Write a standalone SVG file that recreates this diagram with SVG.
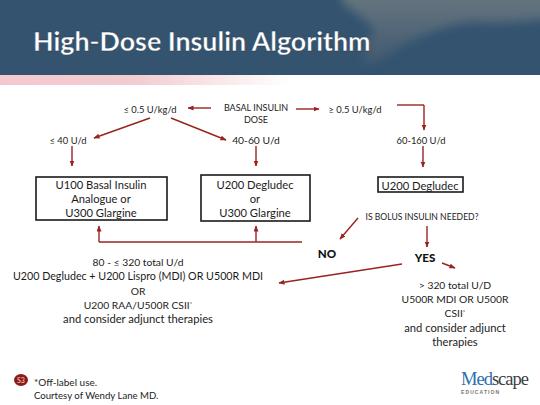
<svg xmlns="http://www.w3.org/2000/svg" width="540" height="405" viewBox="0 0 540 405">
<style>
text{font-family:Lato,"Liberation Sans",sans-serif;fill:#1c1c1c;text-anchor:middle}
.s{font-size:9px}.q{font-size:8.6px}.d{font-size:9.4px}.m{font-size:10.3px}.w{font-size:11.2px}.l{font-size:11.2px}.b{font-size:11.6px;font-weight:900;fill:#111}
.box{fill:#fff;stroke:#1a1a1a;stroke-width:1.6}
.c{fill:none;stroke:#982420;stroke-width:1.4;marker-end:url(#a)}
.n{fill:none;stroke:#982420;stroke-width:1.4}
.f{font-size:10px;text-anchor:start}
</style>
<defs>
<marker id="a" markerUnits="userSpaceOnUse" markerWidth="7" markerHeight="6" refX="5.5" refY="2.5" orient="auto"><path d="M0 0L6 2.5L0 5z" fill="#982420"/></marker>
<linearGradient id="p" x1="0" x2="1" y1="0" y2="0"><stop offset="0" stop-color="#f3c9cf"/><stop offset=".25" stop-color="#f2ccd0"/><stop offset=".54" stop-color="#fff"/></linearGradient>
<linearGradient id="cl" x1="0" x2="0" y1="0" y2="1"><stop offset="0" stop-color="#6c7a80"/><stop offset="1" stop-color="#3f5870"/></linearGradient>
<filter id="bl"><feGaussianBlur stdDeviation="5"/></filter>
<clipPath id="bc"><rect width="540" height="75"/></clipPath>
</defs>
<rect width="540" height="405" fill="#fff"/>
<g id="banner">
<rect width="540" height="75" fill="#33536f"/>
<g clip-path="url(#bc)"><path d="M335 -15H560V18Q500 25 470 22Q430 28 395 50Q375 66 365 66Q360 50 375 30Q360 15 345 5z" fill="url(#cl)" filter="url(#bl)"/></g>
<rect y="75" width="540" height="10" fill="url(#p)"/>
<text x="33" y="51" style="font-size:26.8px;font-weight:700;fill:#fff;text-anchor:start;stroke:#1f3347;stroke-width:.3px">High-Dose Insulin Algorithm</text>
</g>
<g id="connectors">
<path class="c" d="M211 108H188"/>
<path class="c" d="M296 109H319"/>
<path class="n" d="M397 105H424"/><path class="c" d="M424 105V130"/>
<path class="c" d="M150 118L94 138"/>
<path class="c" d="M171 118L226 140"/>
<path class="c" d="M72 146V166"/>
<path class="c" d="M256 146V166"/>
<path class="c" d="M423 146V167"/>
<path class="n" d="M302 242H99"/><path class="c" d="M99 242V226"/><path class="c" d="M256 242V226"/>
<path class="c" d="M358 218L340 239"/>
<path class="c" d="M427 226V247"/>
<path class="c" d="M402 264L279 283"/>
<path class="c" d="M442 263L455 268"/>
</g>
<g id="basal-dose"><text class="s" x="256" y="111">BASAL INSULIN</text><text class="s" x="256" y="123">DOSE</text></g>
<g id="low-dose"><text class="d" x="150" y="113">≤ 0.5 U/kg/d</text></g>
<g id="high-dose"><text class="d" x="355" y="113">≥ 0.5 U/kg/d</text></g>
<g id="d40"><text class="d" x="68" y="144">≤ 40 U/d</text></g>
<g id="d40-60"><text class="m" x="256" y="144">40-60 U/d</text></g>
<g id="d60-160"><text class="d" x="421" y="144">60-160 U/d</text></g>
<g id="box-u100"><rect class="box" x="36" y="177" width="131" height="43"/><text class="l" x="101" y="189">U100 Basal  Insulin</text><text class="l" x="101" y="203">Analogue or</text><text class="l" x="101" y="217">U300 Glargine</text></g>
<g id="box-u200"><rect class="box" x="201" y="175" width="109" height="46"/><text class="l" x="255" y="189">U200 Degludec</text><text class="l" x="255" y="203">or</text><text class="l" x="255" y="217">U300 Glargine</text></g>
<g id="box-deg"><rect class="box" x="378" y="177" width="85" height="15"/><text class="l" x="420" y="190">U200 Degludec</text></g>
<g id="bolus"><text class="q" x="422" y="220">IS BOLUS INSULIN NEEDED?</text></g>
<g id="no"><text class="b" x="327" y="258">NO</text></g>
<g id="yes"><text class="b" x="425" y="262">YES</text></g>
<g id="left-result"><text x="138" y="266" font-size="10.3">80 - ≤ 320 total U/d</text><text x="138" y="280" font-size="10.7">U200 Degludec + U200 Lispro (MDI) OR U500R MDI</text><text class="m" x="138" y="295">OR</text><text class="m" x="138" y="309">U200 RAA/U500R CSII<tspan dy="-3" font-size="6">*</tspan></text><text class="w" x="138" y="323">and consider adjunct therapies</text></g>
<g id="right-result"><text class="m" x="455" y="289">&gt; 320 total U/D</text><text class="m" x="455" y="303">U500R MDI OR U500R</text><text class="m" x="455" y="317">CSII<tspan dy="-3" font-size="6">*</tspan></text><text class="w" x="455" y="332">and consider adjunct</text><text class="w" x="455" y="346">therapies</text></g>
<g id="footer">
<ellipse cx="21" cy="380" rx="7" ry="6" fill="#8f1a14"/><text x="21" y="383" style="font-size:7px;fill:#f3d6d3">S3</text>
<text class="f" x="34" y="386">*Off-label use.</text><text class="f" style="font-size:9.6px" x="34" y="399">Courtesy of Wendy Lane MD.</text>
</g>
<g id="logo">
<text x="461" y="385" style="font-family:'Liberation Serif',serif;font-size:18.5px;text-anchor:start;letter-spacing:-1px;fill:#2a6fb0">Med<tspan fill="#3a3f45">scape</tspan></text>
<text x="461" y="393.5" style="font-family:'Liberation Sans',sans-serif;font-size:5px;font-weight:700;text-anchor:start;letter-spacing:1.1px;fill:#777">EDUCATION</text>
</g>
</svg>
